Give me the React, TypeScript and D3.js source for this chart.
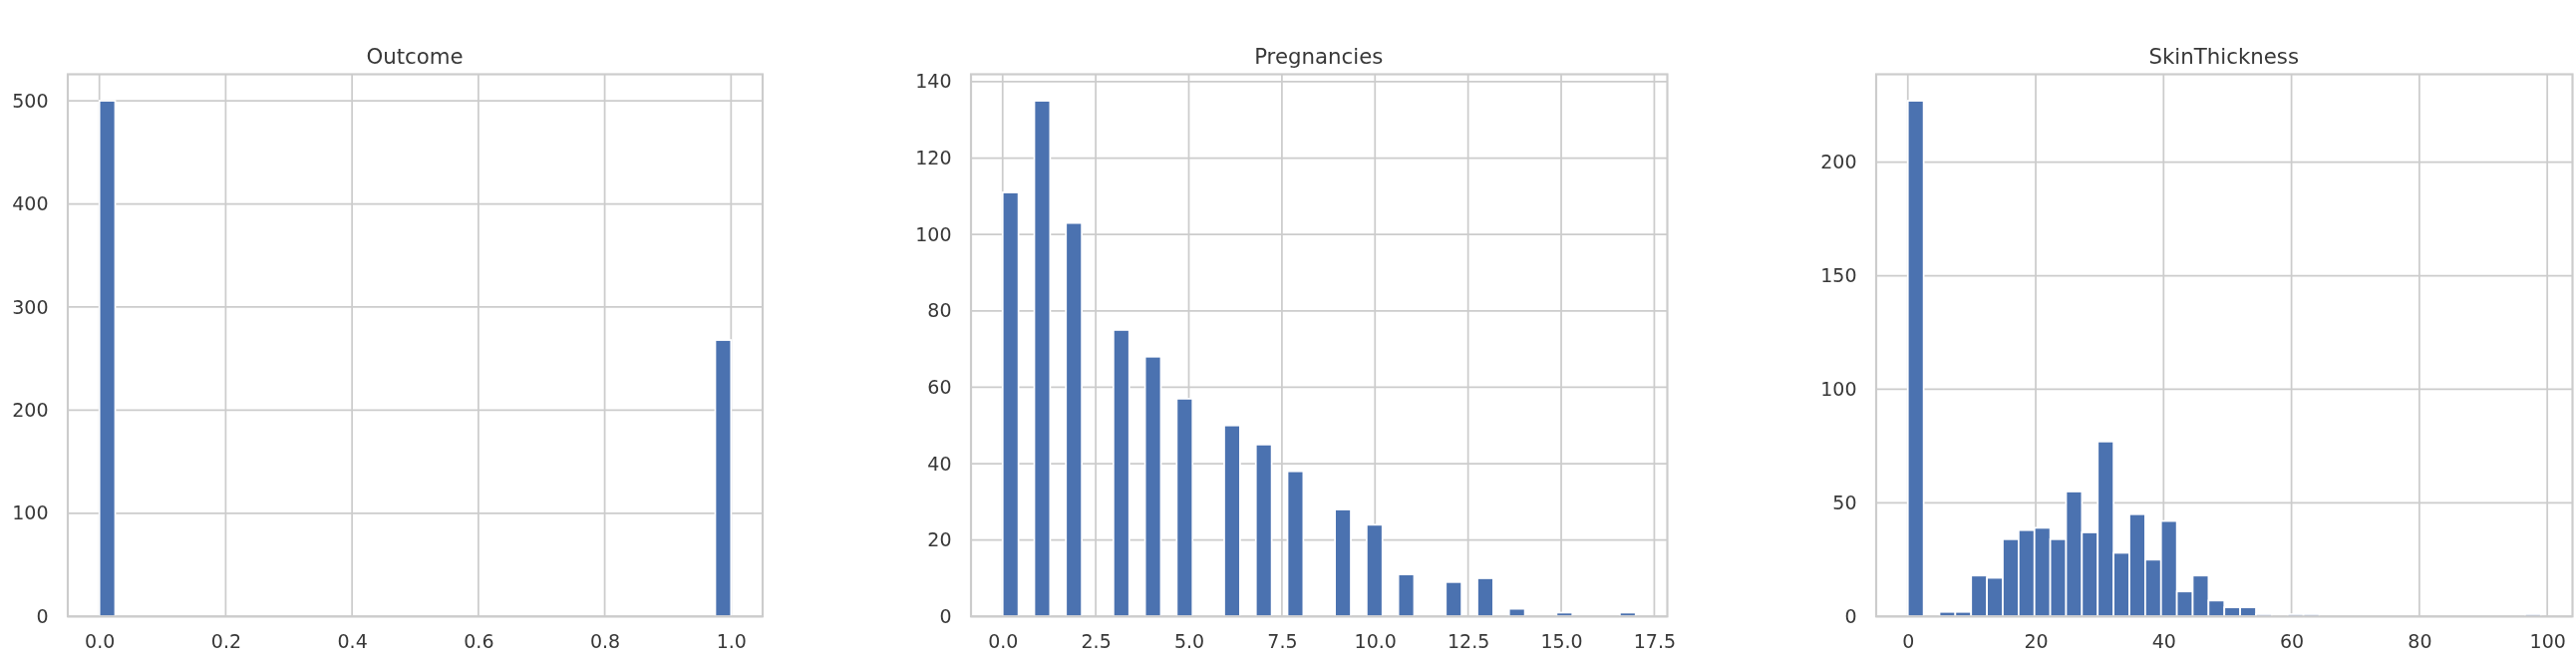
import React, { useEffect, useRef } from "react";
import * as d3 from "d3";

const titles = ["Outcome", "Pregnancies", "SkinThickness"];
const outcomeCounts = [500,0,0,0,0,0,0,0,0,0,0,0,0,0,0,0,0,0,0,0,0,0,0,0,0,0,0,0,0,0,0,0,0,0,0,0,0,0,0,268];
const pregnanciesCounts = [111,0,135,0,103,0,0,75,0,68,0,57,0,0,50,0,45,0,38,0,0,28,0,24,0,11,0,0,9,0,10,0,2,0,0,1,0,0,0,1];
const skinCounts = [227,0,2,2,18,17,34,38,39,34,55,37,77,28,45,25,42,11,18,7,4,4,1,0,1,1,0,0,0,0,0,0,0,0,0,0,0,0,0,1];
const outcomeRange: [number, number] = [0, 1];
const pregnanciesRange: [number, number] = [0, 17];
const skinRange: [number, number] = [0, 99];
const outcomeXTicks = [0, 0.2, 0.4, 0.6, 0.8, 1];
const pregnanciesXTicks = [0, 2.5, 5, 7.5, 10, 12.5, 15, 17.5];
const skinXTicks = [0, 20, 40, 60, 80, 100];
const outcomeYTicks = [0, 100, 200, 300, 400, 500];
const pregnanciesYTicks = [0, 20, 40, 60, 80, 100, 120, 140];
const skinYTicks = [0, 50, 100, 150, 200];
const xFormats = [d3.format(".1f"), d3.format(".1f"), d3.format("d")];

const panels = [
  { title: titles[0], counts: outcomeCounts, range: outcomeRange, xt: outcomeXTicks, yt: outcomeYTicks, left: 68, right: 765 },
  { title: titles[1], counts: pregnanciesCounts, range: pregnanciesRange, xt: pregnanciesXTicks, yt: pregnanciesYTicks, left: 974, right: 1672.5 },
  { title: titles[2], counts: skinCounts, range: skinRange, xt: skinXTicks, yt: skinYTicks, left: 1882, right: 2580.5 },
];
const TOP = 74.5, BOTTOM = 618.3, Y_TOP = 75.2;
const FONT = "'DejaVu Sans', sans-serif";
const TEXT = "#383838";

export default function App() {
  const ref = useRef<SVGSVGElement>(null);
  useEffect(() => {
    const svg = d3.select(ref.current!);
    svg.selectAll("*").remove();
    const defs = svg.append("defs");
    defs.append("filter").attr("id", "soft")
      .attr("filterUnits", "userSpaceOnUse").attr("x", 0).attr("y", 0).attr("width", 2584).attr("height", 664)
      .append("feGaussianBlur").attr("stdDeviation", 0.75);
    const root = svg.append("g").attr("filter", "url(#soft)");
    root.append("rect").attr("width", 2584).attr("height", 664).attr("fill", "#fff");

    panels.forEach((p, idx) => {
      const [lo, hi] = p.range;
      const m = (hi - lo) * 0.05;
      const x = d3.scaleLinear().domain([lo - m, hi + m]).range([p.left, p.right]);
      const y = d3.scaleLinear().domain([0, (d3.max(p.counts) as number) * 1.05]).range([BOTTOM, Y_TOP]);
      const g = root.append("g");
      const binW = (hi - lo) / p.counts.length;

      const xAxis = d3.axisBottom(x).tickValues(p.xt).tickFormat(xFormats[idx] as any).tickSize(0).tickPadding(0);
      const yAxis = d3.axisLeft(y).tickValues(p.yt).tickSize(0).tickPadding(19.5);

      // grid
      const grid = g.append("g").attr("stroke", "#cccccc").attr("stroke-width", 1.75);
      grid.selectAll("line.v").data(p.xt).join("line")
        .attr("x1", d => x(d)).attr("x2", d => x(d)).attr("y1", TOP).attr("y2", BOTTOM);
      grid.selectAll("line.h").data(p.yt).join("line")
        .attr("x1", p.left).attr("x2", p.right).attr("y1", d => y(d)).attr("y2", d => y(d));

      // bars
      g.append("g").selectAll("rect").data(p.counts.map((c, i) => ({ c, i })).filter(d => d.c > 0)).join("rect")
        .attr("x", d => x(lo + d.i * binW))
        .attr("width", d => x(lo + (d.i + 1) * binW) - x(lo + d.i * binW))
        .attr("y", d => y(d.c))
        .attr("height", d => BOTTOM - y(d.c))
        .attr("fill", "#4c72b0").attr("stroke", "#ffffff").attr("stroke-width", 1.73);

      // spines
      g.append("rect").attr("x", p.left).attr("y", TOP).attr("width", p.right - p.left).attr("height", BOTTOM - TOP)
        .attr("fill", "none").attr("stroke", "#cccccc").attr("stroke-width", 2.16);

      // axes
      const xg = g.append("g").attr("transform", `translate(0,${BOTTOM + 18})`).call(xAxis);
      const yg = g.append("g").attr("transform", `translate(${p.left},0)`).call(yAxis);
      [xg, yg].forEach(a => {
        a.select(".domain").remove();
        a.selectAll("text").attr("fill", TEXT).attr("font-size", 19).attr("font-family", FONT);
      });
      xg.selectAll("text").attr("dy", "0.71em");

      g.append("text").attr("x", (p.left + p.right) / 2 - 0.5).attr("y", 63.5).attr("text-anchor", "middle")
        .attr("fill", TEXT).attr("font-size", 21.3).attr("font-family", FONT).text(p.title);
    });
  }, []);
  return <svg ref={ref} width={2584} height={664} viewBox="0 0 2584 664"
    style={{ position: "absolute", left: 0, top: 0, display: "block" }} />;
}
